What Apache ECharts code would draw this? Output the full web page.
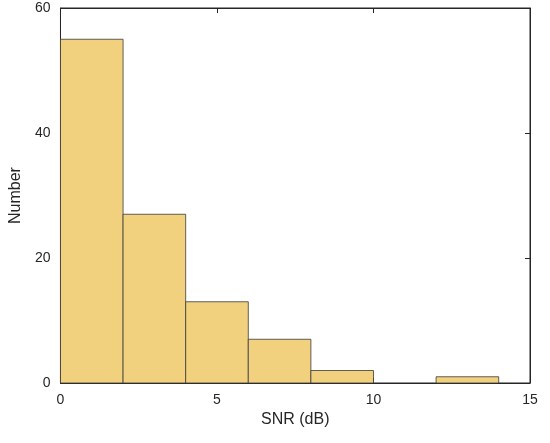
<!DOCTYPE html>
<html>
<head>
<meta charset="UTF-8">
<script src="https://cdn.jsdelivr.net/npm/echarts@6/dist/echarts.min.js"></script>
<style>html,body{margin:0;background:#fff}#main{width:550px;height:443px}</style>
</head>
<body>
<div id="main"></div>
<script>
// histogram bins (dB) and counts
var binStart = [0, 2, 4, 6, 8, 10, 12];
var binEnd = [2, 4, 6, 8, 10, 12, 14];
var counts = [55, 27, 13, 7, 2, 0, 1];

var chart = echarts.init(document.getElementById('main'));
var data = binStart.map(function (s, i) { return [s, binEnd[i], counts[i]]; });
var font = 'Arial, "Liberation Sans", sans-serif';
function axisCommon(show) {
    return {
        axisLine: { show: true, onZero: false, lineStyle: { color: '#262626' } },
        axisTick: { show: true, inside: true, length: 5, lineStyle: { color: '#262626' } },
        axisLabel: { show: show, inside: false, color: '#262626', fontSize: 14, fontFamily: font, margin: 10 },
        splitLine: { show: false }
    };
}
chart.setOption({
    animation: false,
    grid: { left: 60, right: 20, top: 8, bottom: 60, show: true, borderColor: '#262626', borderWidth: 1 },
    xAxis: [
        Object.assign({ type: 'value', min: 0, max: 15, interval: 5, position: 'bottom', name: 'SNR (dB)', nameLocation: 'middle', nameGap: 28,
            nameTextStyle: { fontSize: 16, color: '#262626', fontFamily: font } }, axisCommon(true)),
        Object.assign({ type: 'value', min: 0, max: 15, interval: 5, position: 'top' }, axisCommon(false))
    ],
    yAxis: [
        Object.assign({ type: 'value', min: 0, max: 60, interval: 20, position: 'left', name: 'Number', nameLocation: 'middle', nameGap: 36,
            nameTextStyle: { fontSize: 16, color: '#262626', fontFamily: font } }, axisCommon(true)),
        Object.assign({ type: 'value', min: 0, max: 60, interval: 20, position: 'right' }, axisCommon(false))
    ],
    series: [{
        type: 'custom',
        data: data,
        encode: { x: [0, 1], y: 2 },
        renderItem: function (params, api) {
            if (api.value(2) <= 0) return null;
            var p0 = api.coord([api.value(0), api.value(2)]);
            var p1 = api.coord([api.value(1), 0]);
            return {
                type: 'rect',
                shape: { x: p0[0], y: p0[1], width: p1[0] - p0[0], height: p1[1] - p0[1] },
                style: { fill: '#f2d17e', stroke: '#3a3a3a', lineWidth: 0.8 }
            };
        }
    }, {
        type: 'line', xAxisIndex: 1, yAxisIndex: 1, data: [], silent: true
    }]
});
</script>
</body>
</html>
